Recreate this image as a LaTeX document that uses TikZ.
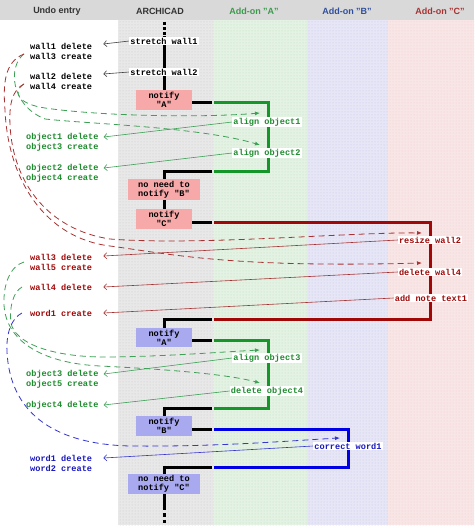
\documentclass[tikz,border=0pt]{standalone}
\usepackage{fontspec}
\setmainfont{Liberation Sans}
\setmonofont{Liberation Mono}
\usetikzlibrary{arrows.meta,patterns}
\definecolor{hdrbg}{HTML}{D9D9D9}
\definecolor{hdrtxt}{HTML}{333333}
\definecolor{hdA}{HTML}{3A9A4A}
\definecolor{hdB}{HTML}{2E4E9E}
\definecolor{hdC}{HTML}{A83232}
\definecolor{colAC}{HTML}{E8E8E8}
\definecolor{colA}{HTML}{E3F2E3}
\definecolor{colB}{HTML}{E6E6F6}
\definecolor{colC}{HTML}{F8E6E6}
\definecolor{dotAC}{HTML}{C8C8C8}
\definecolor{dotA}{HTML}{BFE0BF}
\definecolor{dotB}{HTML}{C6C6EA}
\definecolor{dotC}{HTML}{EEC8C8}
\definecolor{pinkbox}{HTML}{F7A9A9}
\definecolor{bluebox}{HTML}{A9A9F0}
\definecolor{grnL}{HTML}{149628}
\definecolor{redL}{HTML}{A00808}
\definecolor{bluL}{HTML}{0000E6}
\definecolor{grnT}{HTML}{1E8C2E}
\definecolor{redT}{HTML}{A00808}
\definecolor{bluT}{HTML}{1818C0}
\definecolor{grnD}{HTML}{3DA055}
\definecolor{redD}{HTML}{A83232}
\definecolor{bluD}{HTML}{3535D0}
\definecolor{blkD}{HTML}{404040}
\pgfdeclarelayer{bg}
\pgfdeclarelayer{lines}
\pgfsetlayers{bg,lines,main}
\begin{document}
\begin{tikzpicture}[x=1pt,y=-1pt,
  mono/.style={font=\fontsize{8.6}{10}\selectfont\ttfamily\bfseries},
  lbl/.style={mono, fill=white, inner sep=1pt},
  entry/.style={mono, anchor=west, inner sep=0pt},
  pbox/.style={font=\fontsize{8.6}{9}\selectfont\ttfamily\bfseries, align=center, inner sep=0pt, fill=pinkbox, minimum width=56pt, minimum height=20pt},
  bbox/.style={pbox, fill=bluebox},
  hd/.style={font=\fontsize{9}{10}\selectfont\bfseries},
  blk/.style={line width=3pt, draw=black},
  grnl/.style={line width=3pt, draw=grnL},
  redl/.style={line width=3pt, draw=redL},
  blul/.style={line width=3pt, draw=bluL},
  dsh/.style={dash pattern=on 6pt off 4pt, line width=0.8pt, -{Latex[length=5pt,width=4pt]}},
  arr/.style={line width=0.6pt, -{Straight Barb[length=3pt,width=6pt]}}
]
\useasboundingbox (0,0) rectangle (474,529);
\begin{pgfonlayer}{bg}
  \fill[white] (0,0) rectangle (474,529);
  \fill[hdrbg] (0,0) rectangle (474,20);
  \fill[colAC] (118,20) rectangle (213,525);
  \fill[colA] (213,20) rectangle (307,525);
  \fill[colB] (307,20) rectangle (388,525);
  \fill[colC] (388,20) rectangle (474,525);
  \fill[pattern=dots, pattern color=dotAC] (118,20) rectangle (213,525);
  \fill[pattern=dots, pattern color=dotA] (213,20) rectangle (307,525);
  \fill[pattern=dots, pattern color=dotB] (307,20) rectangle (388,525);
  \fill[pattern=dots, pattern color=dotC] (388,20) rectangle (474,525);
\end{pgfonlayer}

% headers
\node[hd, text=hdrtxt] (hU) at (57,11) {Undo entry};
\node[hd, text=hdrtxt] (hAC) at (160,11) {ARCHICAD};
\node[hd, text=hdA] (hA) at (254,11) {Add-on "A"};
\node[hd, text=hdB] (hB) at (347,11) {Add-on "B"};
\node[hd, text=hdC] (hC) at (440,11) {Add-on "C"};

% ARCHICAD column
\node[lbl] (sw1) at (164,41) {stretch wall1};
\node[lbl] (sw2) at (164,72) {stretch wall2};
\node[pbox] (nA1) at (164,100) {notify\\"A"};
\node[pbox, minimum width=72pt, minimum height=21pt] (nB1) at (164,189.5) {no need to\\notify "B"};
\node[pbox] (nC1) at (164,219) {notify\\"C"};
\node[bbox, minimum height=19pt] (nA2) at (164,337.5) {notify\\"A"};
\node[bbox] (nB2) at (164,426) {notify\\"B"};
\node[bbox, minimum width=72pt] (nC2) at (164,484) {no need to\\notify "C"};

% add-on labels
\node[lbl, text=grnT] (ao1) at (267,122) {align object1};
\node[lbl, text=grnT] (ao2) at (267,153) {align object2};
\node[lbl, text=redT] (rw2) at (430,240) {resize wall2};
\node[lbl, text=redT] (dw4) at (430,272) {delete wall4};
\node[lbl, text=redT] (ant) at (431,298) {add note text1};
\node[lbl, text=grnT] (ao3) at (267,358) {align object3};
\node[lbl, text=grnT] (do4) at (267,391) {delete object4};
\node[lbl, text=bluT] (cw1) at (348,446) {correct word1};

% undo entries
\node[entry] (e1a) at (30,46) {wall1 delete};
\node[entry] (e1b) at (30,56) {wall3 create};
\node[entry] (e2a) at (30,76) {wall2 delete};
\node[entry] (e2b) at (30,86) {wall4 create};
\node[entry, text=grnT] (e3a) at (26,137) {object1 delete};
\node[entry, text=grnT] (e3b) at (26,147) {object3 create};
\node[entry, text=grnT] (e4a) at (26,168) {object2 delete};
\node[entry, text=grnT] (e4b) at (26,178) {object4 create};
\node[entry, text=redT] (e5a) at (30,257) {wall3 delete};
\node[entry, text=redT] (e5b) at (30,267) {wall5 create};
\node[entry, text=redT] (e6) at (30,287) {wall4 delete};
\node[entry, text=redT] (e7) at (30,313) {word1 create};
\node[entry, text=grnT] (e8a) at (26,374) {object3 delete};
\node[entry, text=grnT] (e8b) at (26,384) {object5 create};
\node[entry, text=grnT] (e9) at (26,405) {object4 delete};
\node[entry, text=bluT] (e10a) at (30,458) {word1 delete};
\node[entry, text=bluT] (e10b) at (30,468) {word2 create};

% timeline coordinates
\coordinate (tl0) at (164,22);
\coordinate (tl1) at (164,36);
\coordinate (tl2) at (164,506);
\coordinate (tl3) at (164,523);
\coordinate (lA1o) at (212,103);  \coordinate (lA1i) at (214,103);
\coordinate (lA1c) at (268,172);  \coordinate (lA1r) at (214,172); \coordinate (lA1b) at (212,172);
\coordinate (lC1o) at (212,222);  \coordinate (lC1i) at (214,222);
\coordinate (lC1c) at (430,319);  \coordinate (lC1r) at (214,319); \coordinate (lC1b) at (212,319);
\coordinate (lA2o) at (212,340);  \coordinate (lA2i) at (214,340);
\coordinate (lA2c) at (268,408);  \coordinate (lA2r) at (214,408); \coordinate (lA2b) at (212,408);
\coordinate (lB2o) at (212,429);  \coordinate (lB2i) at (214,429);
\coordinate (lB2c) at (348,467);  \coordinate (lB2r) at (214,467); \coordinate (lB2b) at (212,467);

% dashed curve ends
\coordinate (s1) at ([shift={(-6pt,2pt)}]e1b.west);
\coordinate (s2) at ([shift={(-6pt,2pt)}]e2b.west);
\coordinate (s5) at ([shift={(-6pt,5pt)}]e5b.west);
\coordinate (s6) at ([xshift=-8pt]e6.west);
\coordinate (s7) at ([xshift=-8pt]e7.west);
\coordinate (t1) at ([shift={(-7pt,9pt)}]ao1.center);
\coordinate (t2) at ([shift={(-7pt,8pt)}]ao2.center);
\coordinate (t3) at ([shift={(-8pt,7pt)}]rw2.center);
\coordinate (t4) at ([shift={(-8pt,9pt)}]dw4.center);
\coordinate (t5) at ([shift={(-7pt,8pt)}]ao3.center);
\coordinate (t6) at ([shift={(-7pt,8pt)}]do4.center);
\coordinate (t7) at ([shift={(-8pt,8pt)}]cw1.center);

\begin{pgfonlayer}{lines}
  % timeline
  \draw[blk, dash pattern=on 3pt off 2pt] (tl0) -- (tl1);
  \draw[blk] (tl1) -- (nA1.north);
  \draw[blk] ([yshift=-3pt]nA1.east) -- (lA1o);
  \draw[grnl, line join=miter] (lA1i) -| (lA1c) -- (lA1r);
  \draw[blk, line join=miter] (lA1b) -| (nB1.north);
  \draw[blk] (nB1.south) -- (nC1.north);
  \draw[blk] ([yshift=-3pt]nC1.east) -- (lC1o);
  \draw[redl, line join=miter] (lC1i) -| (lC1c) -- (lC1r);
  \draw[blk, line join=miter] (lC1b) -| (nA2.north);
  \draw[blk] ([yshift=-2.5pt]nA2.east) -- (lA2o);
  \draw[grnl, line join=miter] (lA2i) -| (lA2c) -- (lA2r);
  \draw[blk, line join=miter] (lA2b) -| (nB2.north);
  \draw[blk] ([yshift=-3pt]nB2.east) -- (lB2o);
  \draw[blul, line join=miter] (lB2i) -| (lB2c) -- (lB2r);
  \draw[blk, line join=miter] (lB2b) -| (nC2.north);
  \draw[blk] (nC2.south) -- (tl2);
  \draw[blk, dash pattern=on 4pt off 3pt] (tl2) -- (tl3);

  % solid arrows to undo entries
  \draw[arr, draw=blkD] (sw1.west) -- ([shift={(11pt,2pt)}]e1a.east);
  \draw[arr, draw=blkD] (sw2.west) -- ([shift={(11pt,2pt)}]e2a.east);
  \draw[arr, draw=grnD] (ao1.west) -- ([xshift=5pt]e3a.east);
  \draw[arr, draw=grnD] (ao2.west) -- ([xshift=5pt]e4a.east);
  \draw[arr, draw=redD] (rw2.west) -- ([shift={(11pt,1pt)}]e5a.east);
  \draw[arr, draw=redD] (dw4.west) -- ([xshift=11pt]e6.east);
  \draw[arr, draw=redD] (ant.west) -- ([xshift=11pt]e7.east);
  \draw[arr, draw=grnD] (ao3.west) -- ([xshift=5pt]e8a.east);
  \draw[arr, draw=grnD] (do4.west) -- ([xshift=5pt]e9.east);
  \draw[arr, draw=bluD] (cw1.west) -- ([xshift=11pt]e10a.east);

  % dashed dependency curves
  \draw[dsh, draw=grnD] (s1) .. controls (8,66) and (10,105) .. (45,119)
       .. controls (90,124) and (200,127) .. (t2);
  \draw[dsh, draw=grnD] (s2) .. controls (12,92) and (18,104) .. (45,108)
       .. controls (100,116) and (200,118) .. (t1);
  \draw[dsh, draw=redD] (s1) .. controls (4,62) and (3,85) .. (5,110)
       .. controls (8,180) and (45,238) .. (110,246)
       .. controls (170,254) and (230,268) .. (t4);
  \draw[dsh, draw=redD] (s2) .. controls (12,90) and (9,105) .. (10,125)
       .. controls (13,185) and (50,230) .. (110,239)
       .. controls (200,246) and (350,232) .. (t3);
  \draw[dsh, draw=grnD] (s5) .. controls (10,266) and (3,285) .. (4,305)
       .. controls (6,340) and (40,363) .. (100,366)
       .. controls (180,370) and (230,375) .. (t6);
  \draw[dsh, draw=grnD] (s6) .. controls (13,292) and (9,308) .. (11,323)
       .. controls (15,343) and (50,356) .. (100,357)
       .. controls (160,357) and (220,352) .. (t5);
  \draw[dsh, draw=bluD] (s7) .. controls (12,318) and (6,332) .. (7,352)
       .. controls (10,410) and (50,444) .. (130,446)
       .. controls (220,447) and (300,440) .. (t7);
\end{pgfonlayer}
\end{tikzpicture}
\end{document}
